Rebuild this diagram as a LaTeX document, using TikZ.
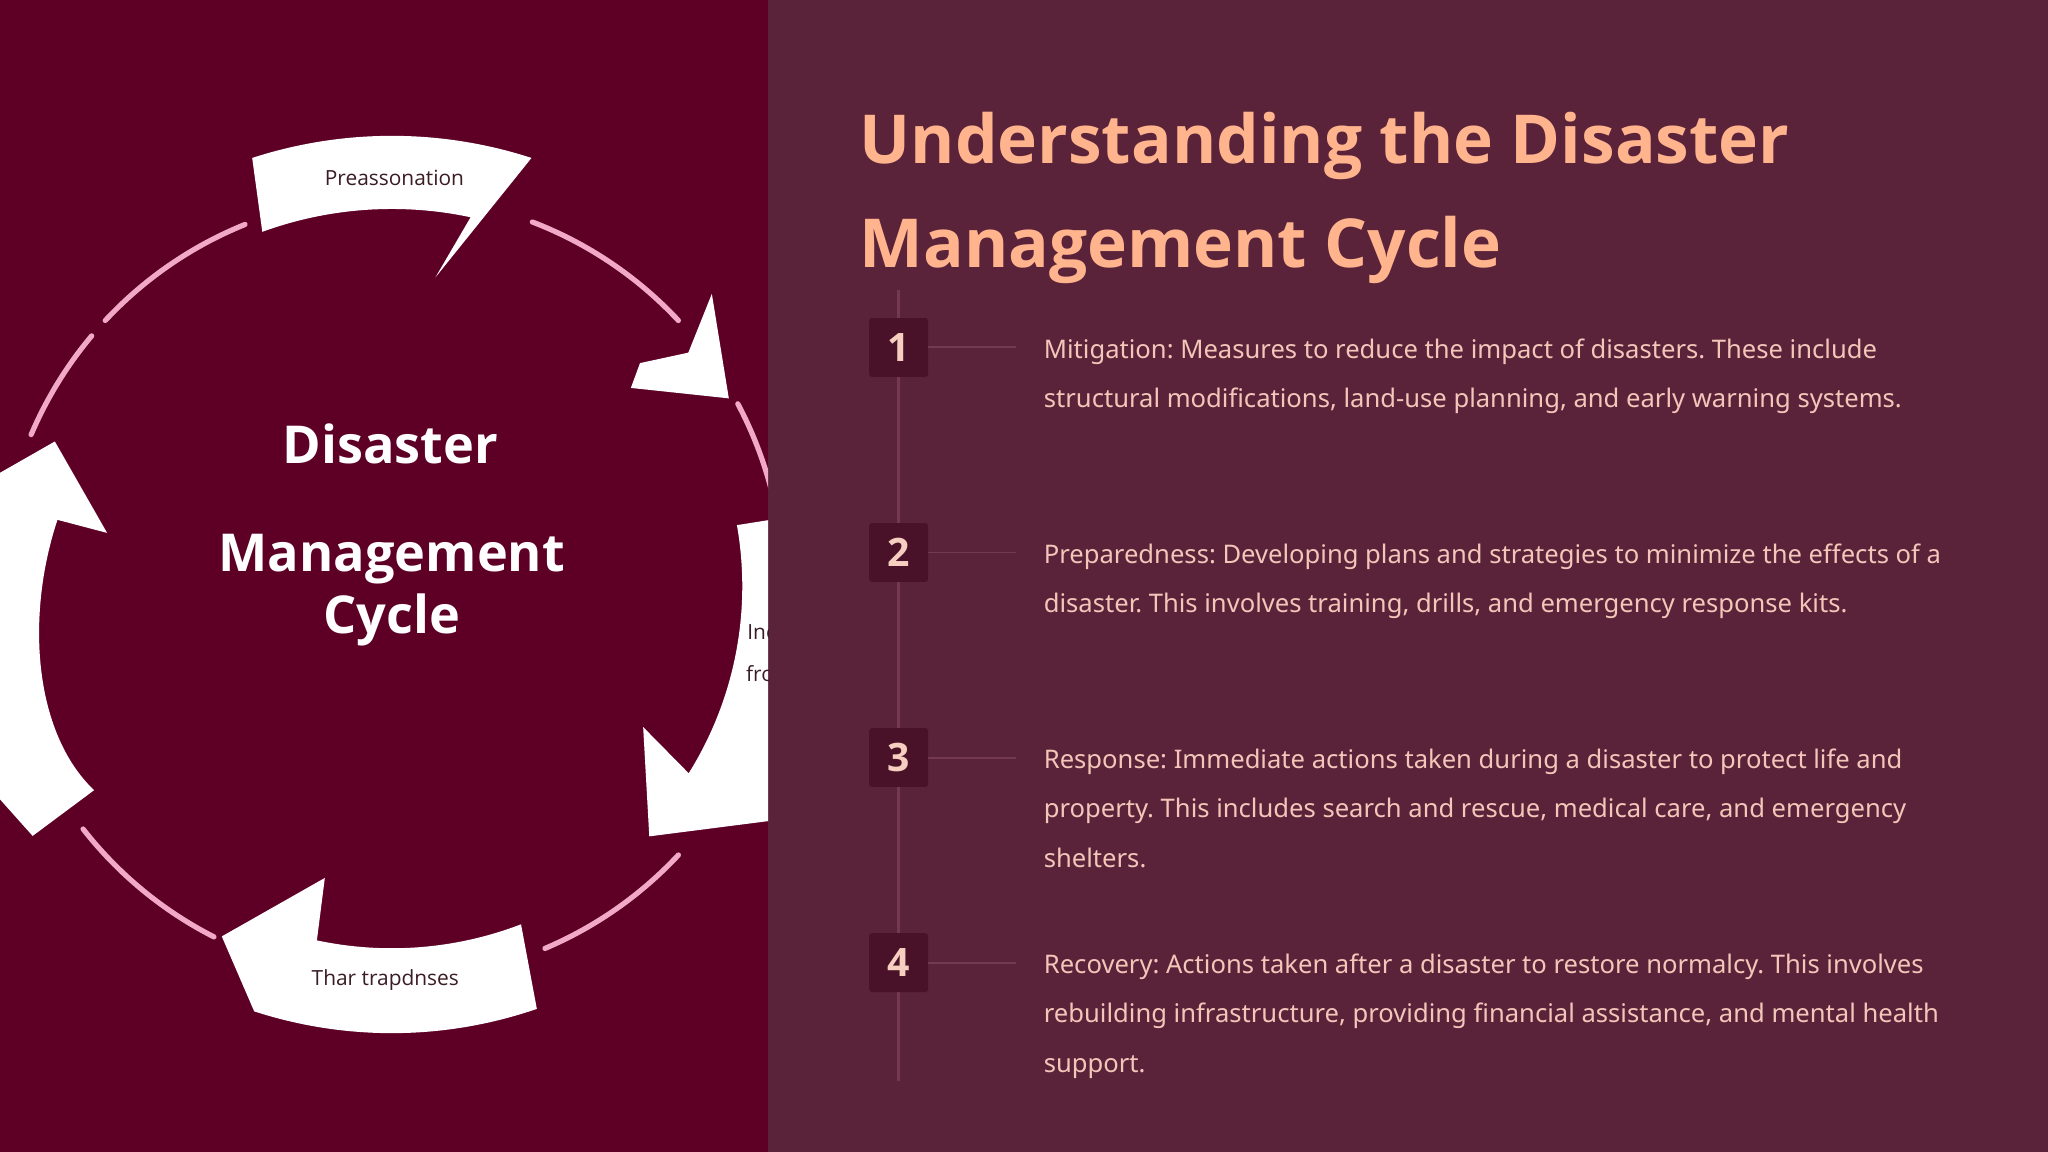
\documentclass[tikz,border=0pt]{standalone}
\usepackage{fontspec}
\setmainfont{Noto Sans}
\newfontfamily\boldf{Open Sans}
\newfontfamily\cyclefont{Open Sans}
\frenchspacing
\definecolor{leftbg}{HTML}{5E0026}
\definecolor{rightbg}{HTML}{5A2339}
\definecolor{boxc}{HTML}{4A1229}
\definecolor{titlec}{HTML}{FFB48E}
\definecolor{bodyc}{HTML}{F3C6BA}
\definecolor{numc}{HTML}{F6CFC0}
\definecolor{linec}{HTML}{74394F}
\definecolor{ringc}{HTML}{F2A9C8}
\definecolor{labc}{HTML}{3A1C24}
\tikzset{
  numbox/.style={fill=boxc,minimum width=45pt,minimum height=45pt,inner sep=0,rounded corners=2pt,text=numc,font=\boldf\bfseries\fontsize{30}{30}\selectfont},
  bodytext/.style={anchor=north west,inner sep=0,align=left,text=bodyc,font=\fontsize{19.6}{38}\selectfont},
  ring/.style={draw=ringc,line width=4pt,line cap=round},
  whitearrow/.style={fill=white},
  arrlabel/.style={text=labc,font=\cyclefont\fontsize{16}{20}\selectfont},
  centertext/.style={text=white,font=\cyclefont\bfseries\fontsize{40}{46}\selectfont},
  titletext/.style={anchor=base west,inner sep=0,text=titlec,font=\boldf\bfseries\fontsize{51.7}{80}\selectfont}
}
\begin{document}
\begin{tikzpicture}[x=1pt,y=-1pt]
\useasboundingbox (0,0) rectangle (1568,882);
\fill[rightbg] (0,0) rectangle (1568,882);
\fill[leftbg] (0,0) rectangle (588,882);
\begin{scope}
\clip (0,0) rectangle (588,882);
\begin{scope}[shift={(300,450)},y=1pt]
 \foreach \a/\b in {69/43,28/13,-43/-67,-117/-142,112/137,140/157}
   \draw[ring] (\a:300) arc[start angle=\a,end angle=\b,radius=300];
 \fill[whitearrow] (108:346) arc[start angle=108,end angle=72,radius=346] -- (82:240) -- (78:290) arc[start angle=78,end angle=110,radius=290] -- cycle;
 \fill[whitearrow] (-69:276) arc[start angle=-69,end angle=-102,radius=276] -- (-103:228) -- (-116:297) -- (-108:341) arc[start angle=-108,end angle=-71,radius=341] -- cycle;
 \fill[whitearrow] (10:345) arc[start angle=10,end angle=-31,radius=345] -- (-44:274) -- (-29:220) -- (-32:268) arc[start angle=-32,end angle=10,radius=270] -- cycle;
\end{scope}
 \fill[whitearrow] (545,225) -- (558,305) -- (483,297) -- (490,278) -- (527,270) -- cycle;
 \fill[whitearrow] (0,362) -- (42,338) -- (82,408) -- (44,398) .. controls (20,470) and (25,560) .. (72,605) -- (25,640) -- (0,612) -- cycle;
 \node[arrlabel] (lab1) at (302,136) {Preassonation};
 \node[arrlabel] (lab2) at (295,750) {Thar trapdnses};
 \node[arrlabel,anchor=west,inner sep=0] (lab3) at (572,484) {Increase};
 \node[arrlabel,anchor=west,inner sep=0] (lab4) at (571,516) {from};
\end{scope}
\node[centertext] (c1) at (299,340) {Disaster};
\node[centertext] (c2) at (300,428) {Management};
\node[centertext] (c3) at (300,475) {Cycle};
\node[titletext] (t1) at (658,125) {Understanding the Disaster};
\node[titletext] (t2) at (658,205) {Management Cycle};
\coordinate (ltop) at (688,222);
\coordinate (lbot) at (688,828);
\draw[linec,line width=2pt] (ltop) -- (lbot);
\foreach \n/\y in {1/266,2/423,3/580,4/737}{
  \node[numbox] (b\n) at (688,\y) {\n};
  \coordinate (e\n) at (778,\y);
  \draw[linec,line width=1.5pt] (b\n.east) -- (e\n);
}
\node[bodytext] (d1) at (799,259) {Mitigation: Measures to reduce the impact of disasters. These include\\structural modifications, land-use planning, and early warning systems.};
\node[bodytext] (d2) at (799,416) {Preparedness: Developing plans and strategies to minimize the effects of a\\disaster. This involves training, drills, and emergency response kits.};
\node[bodytext] (d3) at (799,573) {Response: Immediate actions taken during a disaster to protect life and\\property. This includes search and rescue, medical care, and emergency\\shelters.};
\node[bodytext] (d4) at (799,730) {Recovery: Actions taken after a disaster to restore normalcy. This involves\\rebuilding infrastructure, providing financial assistance, and mental health\\support.};
\end{tikzpicture}
\end{document}
